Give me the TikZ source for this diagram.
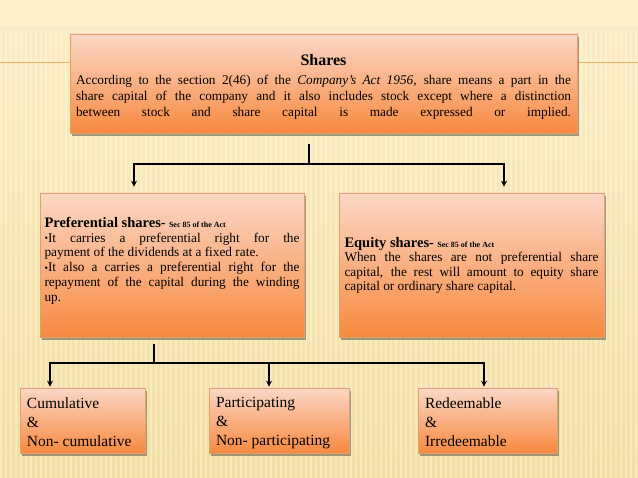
\documentclass[tikz,border=0pt]{standalone}
\usepackage{fontspec}
\setmainfont{Liberation Serif}
\usetikzlibrary{shadows,arrows.meta,calc}
\definecolor{bgtop}{HTML}{FEF0CA}
\definecolor{bgmid}{HTML}{FBEBC0}
\definecolor{bgbot}{HTML}{F3DFA4}
\definecolor{boxtop}{HTML}{FBD7C6}
\definecolor{boxmid}{HTML}{FAB48C}
\definecolor{boxbot}{HTML}{F8893F}
\definecolor{boxborder}{HTML}{E0A26C}
\definecolor{hline}{HTML}{F2B467}
\newcommand\mybul{{\fontsize{10}{10}\selectfont\raisebox{0.1ex}{•}}}
\tikzset{
  box/.style={draw=boxborder, line width=0.6pt, top color=boxtop, middle color=boxmid, bottom color=boxbot,
    drop shadow={shadow xshift=2pt, shadow yshift=-3pt, opacity=0.35, fill=black}, inner ysep=0pt},
  conn/.style={line width=1.3pt, black},
  arr/.style={conn, -{Stealth[length=6pt,width=6pt]}}
}
\begin{document}
\begin{tikzpicture}[x=1pt,y=1pt]
\useasboundingbox (0,0) rectangle (638,-478);
\fill[bgtop] (0,0) rectangle (638,-478);
\shade[top color=bgmid,bottom color=bgbot] (0,-28) rectangle (638,-478);
\foreach \x in {0,5,...,635} \draw[white,opacity=0.3,line width=1.4pt] (\x+1,-30) -- (\x+1,-478);
\draw[hline, line width=0.8pt] (0,-62) -- (638,-62);

\node[box, inner xsep=6pt] (shares) at (323.5,-83.5) {\parbox[c][99pt][t]{495pt}{\fontsize{13.3}{16}\selectfont\vspace*{20pt}%
\makebox[\linewidth]{\fontsize{16}{16}\selectfont\bfseries Shares}\\[3pt]
\makebox[\linewidth][s]{According to the section 2(46) of the \textit{Company’s Act 1956}, share means a part in the}\\
\makebox[\linewidth][s]{share capital of the company and it also includes stock except where a distinction}\\
\makebox[\linewidth][s]{between stock and share capital is made expressed or implied.}}};

\node[box, inner xsep=4.5pt] (pref) at (172,-265) {\parbox[c][144pt][t]{255pt}{\fontsize{13.3}{14.8}\selectfont\vspace*{24pt}%
{\fontsize{14.5}{14.8}\selectfont\bfseries Preferential shares-} {\fontsize{8}{10}\selectfont\bfseries Sec 85 of the Act}\\
\makebox[\linewidth][s]{\mybul It carries a preferential right for the}\\
payment of the dividends at a fixed rate.\\
\makebox[\linewidth][s]{\mybul It also a carries a preferential right for the}\\
\makebox[\linewidth][s]{repayment of the capital during the winding}\\
up.}};

\node[box, inner xsep=5.5pt] (equity) at (471.5,-265) {\parbox[c][144pt][t]{254pt}{\fontsize{13.3}{14.5}\selectfont\vspace*{44pt}%
{\fontsize{14.5}{14.5}\selectfont\bfseries Equity shares-} {\fontsize{8}{10}\selectfont\bfseries Sec 85 of the Act}\\
\makebox[\linewidth][s]{When the shares are not preferential share}\\
\makebox[\linewidth][s]{capital, the rest will amount to equity share}\\
capital or ordinary share capital.}};

\node[box, inner xsep=7pt] (cum) at (82.5,-420.5) {\parbox[c][65pt][t]{111pt}{\fontsize{15.5}{19}\selectfont\vspace*{9.5pt}%
Cumulative\\ \&\\ Non- cumulative}};
\node[box, inner xsep=7pt] (part) at (279,-420.5) {\parbox[c][65pt][t]{126pt}{\fontsize{15.5}{19}\selectfont\vspace*{9.5pt}%
Participating\\ \&\\ Non- participating}};
\node[box, inner xsep=7pt] (red) at (487.5,-420.5) {\parbox[c][65pt][t]{125pt}{\fontsize{15.5}{19}\selectfont\vspace*{9.5pt}%
Redeemable\\ \&\\ Irredeemable}};

\coordinate (j1) at (309,-164);
\draw[conn, shorten <=11pt] (j1 |- shares.south) -- (j1);
\draw[arr, shorten >=6pt] (j1) -| ([xshift=-38pt]pref.north);
\draw[arr, shorten >=6pt] (j1) -| ([xshift=32.5pt]equity.north);

\coordinate (j2) at (154,-363);
\draw[conn, shorten <=7pt] (j2 |- pref.south) -- (j2);
\draw[arr, shorten >=1pt] (j2) -| ([xshift=-32.5pt]cum.north);
\draw[arr, shorten >=1pt] (j2) -| ([xshift=-10pt]part.north);
\draw[arr, shorten >=1pt] (j2) -| ([xshift=-3.5pt]red.north);
\end{tikzpicture}
\end{document}
